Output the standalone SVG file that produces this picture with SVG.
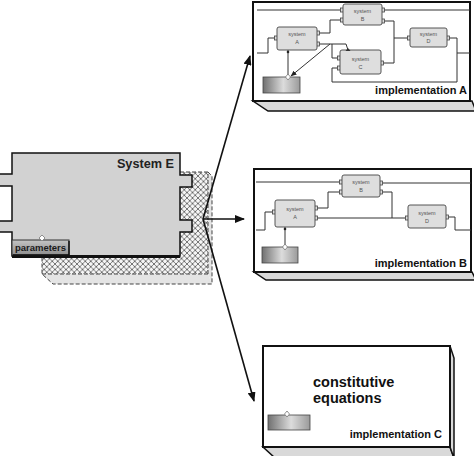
<svg xmlns="http://www.w3.org/2000/svg" width="474" height="456" viewBox="0 0 474 456">
<defs>
<pattern id="hatch" width="5.5" height="5.5" patternUnits="userSpaceOnUse">
<rect width="5.5" height="5.5" fill="#f6f6f6"/>
<path d="M0,0 L5.5,5.5 M5.5,0 L0,5.5" stroke="#555" stroke-width="0.8"/>
</pattern>
<linearGradient id="metal" x1="0" y1="0" x2="1" y2="0">
<stop offset="0" stop-color="#707070"/>
<stop offset="0.55" stop-color="#dcdcdc"/>
<stop offset="1" stop-color="#9a9a9a"/>
</linearGradient>
<linearGradient id="pgrad" x1="0" y1="0" x2="0" y2="1">
<stop offset="0" stop-color="#c4c4c4"/>
<stop offset="1" stop-color="#8e8e8e"/>
</linearGradient>
<marker id="arr" markerWidth="10" markerHeight="8" refX="9" refY="4" orient="auto" markerUnits="userSpaceOnUse">
<path d="M0,0 L10,4 L0,8 Z" fill="#111"/>
</marker>
<marker id="arrs" markerWidth="6" markerHeight="5" refX="5.5" refY="2.5" orient="auto" markerUnits="userSpaceOnUse">
<path d="M0,0 L6,2.5 L0,5 Z" fill="#222"/>
</marker>
</defs>
<style>
.frame{fill:#fff;stroke:#111;stroke-width:2}
.face{fill:#d9d9d9;stroke:#111;stroke-width:1.5}
.wire{fill:none;stroke:#333;stroke-width:1}
.blk{fill:#dedede;stroke:#444;stroke-width:0.9}
.port{fill:#dedede;stroke:#444;stroke-width:0.8}
.st{font-family:"Liberation Sans",Arial,sans-serif;font-size:5.5px;fill:#555;text-anchor:middle}
.lbl{font-family:"Liberation Sans",Arial,sans-serif;font-weight:bold;font-size:11px;fill:#111;text-anchor:end}
.pbox{fill:url(#metal);stroke:#444;stroke-width:0.8}
.dia{fill:#fff;stroke:#777;stroke-width:0.8}
.dash{fill:none;stroke:#444;stroke-width:1;stroke-dasharray:4,2}
.conn{fill:none;stroke:#111;stroke-width:1.6}
</style>

<!-- System E -->
<g id="systemE">
<rect x="42" y="172" width="166" height="102" fill="url(#hatch)"/>
<polygon points="42,274 208,274 212,284 53,284" fill="#e4e4e4"/>
<polygon points="208,172 212,176 212,284 208,274" fill="#e4e4e4"/>
<path class="dash" d="M180,172 H208 V274 M208,172 L212,176 V284 H53 L42,274 V256 M42,274 H208"/>
<path d="M12,153 H180 V175 H192 V187 H180 V220 H192 V232 H180 V256 H12 V232 H-2 V221 H12 V186 H-2 V174 H12 Z" fill="#d2d2d2" stroke="#111" stroke-width="1.5"/>
<path d="M12,256.5 H180" stroke="#111" stroke-width="3"/>
<text x="174" y="168" font-family="Liberation Sans,Arial,sans-serif" font-weight="bold" font-size="12.7" fill="#222" text-anchor="end">System E</text>
<g id="paramsE">
<rect x="12" y="240" width="57" height="15" fill="url(#pgrad)" stroke="#333" stroke-width="1"/>
<path d="M13,255 H69 V241" stroke="#111" stroke-width="1.5" fill="none"/>
<polygon class="dia" points="42,235 45,238 42,241 39,238"/>
<text x="40.5" y="251" font-family="Liberation Sans,Arial,sans-serif" font-weight="bold" font-size="9.5" fill="#1a1a1a" text-anchor="middle">parameters</text>
</g>
</g>

<!-- Implementation A -->
<g id="implA">
<polygon class="face" points="253,101 472,101 476,111 268,111"/>
<rect class="frame" x="253" y="2" width="217" height="99"/>
<g id="A_wires">
<path class="wire" d="M257,53 H268 V38 H277"/>
<path class="wire" d="M257,10 H343"/>
<path class="wire" d="M317,33 H330 V20 H343"/>
<path class="wire" d="M382,10 H470"/>
<path class="wire" d="M382,21 H394 V63 H381"/>
<path class="wire" d="M394,38 H410"/>
<path class="wire" d="M447,38 H457 V82 H332 V68 H340"/>
<path class="wire" d="M457,53 H470"/>
<path class="wire" d="M317,44 H346 L348,50"/>
<path class="wire" d="M332,44 V58 H340"/>
<path class="wire" d="M288,50 V77"/>
<path class="wire" d="M330,44 L291,76" marker-end="url(#arrs)"/>
<circle cx="288" cy="52" r="1.3" fill="#222"/>
</g>
<g id="A_sysA">
<rect class="port" x="274.5" y="36" width="3" height="4"/>
<rect class="port" x="316.5" y="31" width="3" height="4"/>
<rect class="port" x="316.5" y="42" width="3" height="4"/>
<rect class="blk" x="277" y="27" width="40" height="23" rx="2"/>
<text class="st" x="297" y="36">system</text><text class="st" x="297" y="44">A</text>
</g>
<g id="A_sysB">
<rect class="port" x="340.5" y="8" width="3" height="4"/>
<rect class="port" x="340.5" y="18" width="3" height="4"/>
<rect class="port" x="381.5" y="8" width="3" height="4"/>
<rect class="port" x="381.5" y="19" width="3" height="4"/>
<rect class="blk" x="343" y="4" width="39" height="21" rx="2"/>
<text class="st" x="362.5" y="13">system</text><text class="st" x="362.5" y="21">B</text>
</g>
<g id="A_sysC">
<rect class="port" x="337.5" y="56" width="3" height="4"/>
<rect class="port" x="337.5" y="66" width="3" height="4"/>
<rect class="port" x="380.5" y="61" width="3" height="4"/>
<rect class="blk" x="340" y="50" width="41" height="24" rx="2"/>
<polygon points="348,48 350.5,51 345.5,51" fill="#333"/>
<text class="st" x="360.5" y="61">system</text><text class="st" x="360.5" y="69">C</text>
</g>
<g id="A_sysD">
<rect class="port" x="407.5" y="36" width="3" height="4"/>
<rect class="port" x="446.5" y="36" width="3" height="4"/>
<rect class="blk" x="410" y="28" width="37" height="19" rx="2"/>
<text class="st" x="428.5" y="36">system</text><text class="st" x="428.5" y="43">D</text>
</g>
<g id="A_params">
<rect class="pbox" x="263" y="77" width="37" height="16"/>
<polygon class="dia" points="288,74 290.5,77 288,80 285.5,77"/>
</g>
<text class="lbl" x="467" y="94">implementation A</text>
</g>

<!-- Implementation B -->
<g id="implB">
<polygon class="face" points="254,272 472,272 476,280 266,280"/>
<rect class="frame" x="254" y="169" width="217" height="103"/>
<g id="B_wires">
<path class="wire" d="M256,230 H265 V212 H275"/>
<path class="wire" d="M256,182 H342"/>
<path class="wire" d="M315,208 H328 V192 H342"/>
<path class="wire" d="M380,183 H471"/>
<path class="wire" d="M380,192 H392 V218"/>
<path class="wire" d="M315,218 H408"/>
<path class="wire" d="M446,217 H455 V230 H471"/>
<path class="wire" d="M285,227 V247"/>
<circle cx="285" cy="229" r="1.3" fill="#222"/>
</g>
<g id="B_sysA">
<rect class="port" x="272.5" y="210" width="3" height="4"/>
<rect class="port" x="314.5" y="206" width="3" height="4"/>
<rect class="port" x="314.5" y="216" width="3" height="4"/>
<rect class="blk" x="275" y="200" width="40" height="27" rx="2"/>
<text class="st" x="295" y="211">system</text><text class="st" x="295" y="219">A</text>
</g>
<g id="B_sysB">
<rect class="port" x="339.5" y="180" width="3" height="4"/>
<rect class="port" x="339.5" y="190" width="3" height="4"/>
<rect class="port" x="379.5" y="181" width="3" height="4"/>
<rect class="port" x="379.5" y="190" width="3" height="4"/>
<rect class="blk" x="342" y="175" width="38" height="22" rx="2"/>
<text class="st" x="361" y="184">system</text><text class="st" x="361" y="192">B</text>
</g>
<g id="B_sysD">
<rect class="port" x="405.5" y="216" width="3" height="4"/>
<rect class="port" x="445.5" y="215" width="3" height="4"/>
<rect class="blk" x="408" y="205" width="38" height="23" rx="2"/>
<text class="st" x="427" y="215">system</text><text class="st" x="427" y="223">D</text>
</g>
<g id="B_params">
<rect class="pbox" x="262" y="247" width="36" height="16"/>
<polygon class="dia" points="285,244 287.5,247 285,250 282.5,247"/>
</g>
<text class="lbl" x="467" y="267">implementation B</text>
</g>

<!-- Implementation C -->
<g id="implC">
<polygon class="face" points="263,447 450,447 454,458 275,458"/>
<polygon class="face" points="450,346 454,358 454,458 450,447"/>
<rect class="frame" x="263" y="346" width="187" height="101"/>
<text x="313" y="387" font-family="Liberation Sans,Arial,sans-serif" font-weight="bold" font-size="14.5" fill="#111">constitutive</text>
<text x="313" y="403" font-family="Liberation Sans,Arial,sans-serif" font-weight="bold" font-size="14.5" fill="#111">equations</text>
<g id="C_params">
<rect class="pbox" x="268" y="415" width="42" height="15"/>
<polygon class="dia" points="287,411 289.5,414 287,417 284.5,414"/>
</g>
<text class="lbl" x="442" y="438">implementation C</text>
</g>

<!-- connectors -->
<g id="connectors">
<path class="conn" d="M203,219 L250,56" marker-end="url(#arr)"/>
<path class="conn" d="M203,219 H244" marker-end="url(#arr)"/>
<path class="conn" d="M203,219 L254,401" marker-end="url(#arr)"/>
</g>
</svg>
